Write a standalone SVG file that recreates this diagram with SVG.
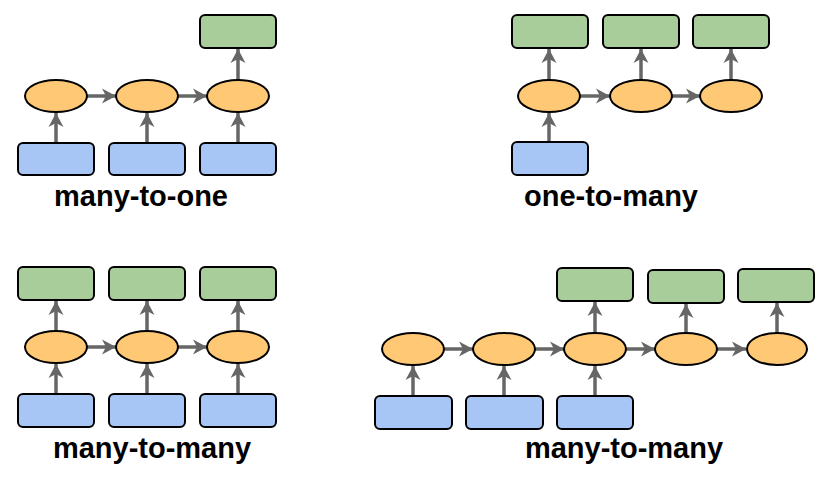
<svg xmlns="http://www.w3.org/2000/svg" width="825" height="478" viewBox="0 0 825 478">
<defs>
<marker id="ah" markerUnits="userSpaceOnUse" markerWidth="18" markerHeight="18" viewBox="-16 -9 18 18" refX="0" refY="0" orient="auto">
<path d="M0,0 L-14,-7.5 L-10,0 L-14,7.5 Z" fill="#666666"/>
</marker>
</defs>
<style>
.in{fill:#a8c6f5;stroke:#000;stroke-width:2}
.out{fill:#a8cc9a;stroke:#000;stroke-width:2}
.h{fill:#ffc875;stroke:#000;stroke-width:2}
.c{stroke:#666666;stroke-width:3.5;fill:none;marker-end:url(#ah)}
.lbl{font-family:"Liberation Sans",Arial,sans-serif;font-weight:bold;font-size:29px;fill:#000;text-anchor:middle}
</style>
<rect width="825" height="478" fill="#fff"/>

<g id="connectors">
<!-- panel 1 -->
<line class="c" x1="56" y1="143" x2="56" y2="113"/>
<line class="c" x1="147" y1="143" x2="147" y2="113"/>
<line class="c" x1="238" y1="143" x2="238" y2="113"/>
<line class="c" x1="87" y1="96" x2="116" y2="96"/>
<line class="c" x1="178" y1="96" x2="207" y2="96"/>
<line class="c" x1="238" y1="80" x2="238" y2="49"/>
<!-- panel 2 -->
<line class="c" x1="549" y1="142" x2="549" y2="113"/>
<line class="c" x1="580" y1="96" x2="610" y2="96"/>
<line class="c" x1="672" y1="96" x2="700" y2="96"/>
<line class="c" x1="549" y1="80" x2="549" y2="49"/>
<line class="c" x1="641" y1="80" x2="641" y2="49"/>
<line class="c" x1="731" y1="80" x2="731" y2="49"/>
<!-- panel 3 -->
<line class="c" x1="56" y1="394" x2="56" y2="364"/>
<line class="c" x1="147" y1="394" x2="147" y2="364"/>
<line class="c" x1="238" y1="394" x2="238" y2="364"/>
<line class="c" x1="87" y1="347" x2="116" y2="347"/>
<line class="c" x1="178" y1="347" x2="207" y2="347"/>
<line class="c" x1="56" y1="331" x2="56" y2="301"/>
<line class="c" x1="147" y1="331" x2="147" y2="301"/>
<line class="c" x1="238" y1="331" x2="238" y2="301"/>
<!-- panel 4 -->
<line class="c" x1="413" y1="396" x2="413" y2="366"/>
<line class="c" x1="504" y1="396" x2="504" y2="366"/>
<line class="c" x1="595" y1="396" x2="595" y2="366"/>
<line class="c" x1="444" y1="349" x2="473" y2="349"/>
<line class="c" x1="535" y1="349" x2="564" y2="349"/>
<line class="c" x1="626" y1="349" x2="655" y2="349"/>
<line class="c" x1="717" y1="349" x2="746" y2="349"/>
<line class="c" x1="595" y1="333" x2="595" y2="302"/>
<line class="c" x1="686" y1="333" x2="686" y2="304"/>
<line class="c" x1="777" y1="333" x2="777" y2="303"/>
</g>

<!-- panel 1: many-to-one -->
<g id="p1-in1"><rect class="in" x="18" y="143" width="76" height="32" rx="5"/></g>
<g id="p1-in2"><rect class="in" x="109" y="143" width="76" height="32" rx="5"/></g>
<g id="p1-in3"><rect class="in" x="200" y="143" width="76" height="32" rx="5"/></g>
<g id="p1-h1"><ellipse class="h" cx="56" cy="96" rx="31" ry="16"/></g>
<g id="p1-h2"><ellipse class="h" cx="147" cy="96" rx="31" ry="16"/></g>
<g id="p1-h3"><ellipse class="h" cx="238" cy="96" rx="31" ry="16"/></g>
<g id="p1-out1"><rect class="out" x="200" y="15" width="76" height="33" rx="5"/></g>
<g id="p1-label"><text class="lbl" x="141" y="206">many-to-one</text></g>

<!-- panel 2: one-to-many -->
<g id="p2-in1"><rect class="in" x="512" y="142" width="76" height="33" rx="5"/></g>
<g id="p2-h1"><ellipse class="h" cx="549" cy="96" rx="31" ry="16"/></g>
<g id="p2-h2"><ellipse class="h" cx="641" cy="96" rx="31" ry="16"/></g>
<g id="p2-h3"><ellipse class="h" cx="731" cy="96" rx="31" ry="16"/></g>
<g id="p2-out1"><rect class="out" x="512" y="15" width="76" height="33" rx="5"/></g>
<g id="p2-out2"><rect class="out" x="603" y="15" width="76" height="33" rx="5"/></g>
<g id="p2-out3"><rect class="out" x="693" y="15" width="76" height="33" rx="5"/></g>
<g id="p2-label"><text class="lbl" x="611" y="206">one-to-many</text></g>

<!-- panel 3: many-to-many (synced) -->
<g id="p3-in1"><rect class="in" x="18" y="394" width="76" height="33" rx="5"/></g>
<g id="p3-in2"><rect class="in" x="109" y="394" width="76" height="33" rx="5"/></g>
<g id="p3-in3"><rect class="in" x="200" y="394" width="76" height="33" rx="5"/></g>
<g id="p3-h1"><ellipse class="h" cx="56" cy="347" rx="31" ry="16"/></g>
<g id="p3-h2"><ellipse class="h" cx="147" cy="347" rx="31" ry="16"/></g>
<g id="p3-h3"><ellipse class="h" cx="238" cy="347" rx="31" ry="16"/></g>
<g id="p3-out1"><rect class="out" x="18" y="267" width="76" height="33" rx="5"/></g>
<g id="p3-out2"><rect class="out" x="109" y="267" width="76" height="33" rx="5"/></g>
<g id="p3-out3"><rect class="out" x="200" y="267" width="76" height="33" rx="5"/></g>
<g id="p3-label"><text class="lbl" x="152" y="458">many-to-many</text></g>

<!-- panel 4: many-to-many (encoder-decoder) -->
<g id="p4-in1"><rect class="in" x="375" y="396" width="77" height="33" rx="5"/></g>
<g id="p4-in2"><rect class="in" x="466" y="396" width="77" height="33" rx="5"/></g>
<g id="p4-in3"><rect class="in" x="557" y="396" width="76" height="33" rx="5"/></g>
<g id="p4-h1"><ellipse class="h" cx="413" cy="349" rx="31" ry="16"/></g>
<g id="p4-h2"><ellipse class="h" cx="504" cy="349" rx="31" ry="16"/></g>
<g id="p4-h3"><ellipse class="h" cx="595" cy="349" rx="31" ry="16"/></g>
<g id="p4-h4"><ellipse class="h" cx="686" cy="349" rx="31" ry="16"/></g>
<g id="p4-h5"><ellipse class="h" cx="777" cy="349" rx="30" ry="16"/></g>
<g id="p4-out1"><rect class="out" x="557" y="268" width="76" height="33" rx="5"/></g>
<g id="p4-out2"><rect class="out" x="648" y="270" width="76" height="33" rx="5"/></g>
<g id="p4-out3"><rect class="out" x="738" y="269" width="76" height="33" rx="5"/></g>
<g id="p4-label"><text class="lbl" x="624" y="458">many-to-many</text></g>
</svg>
